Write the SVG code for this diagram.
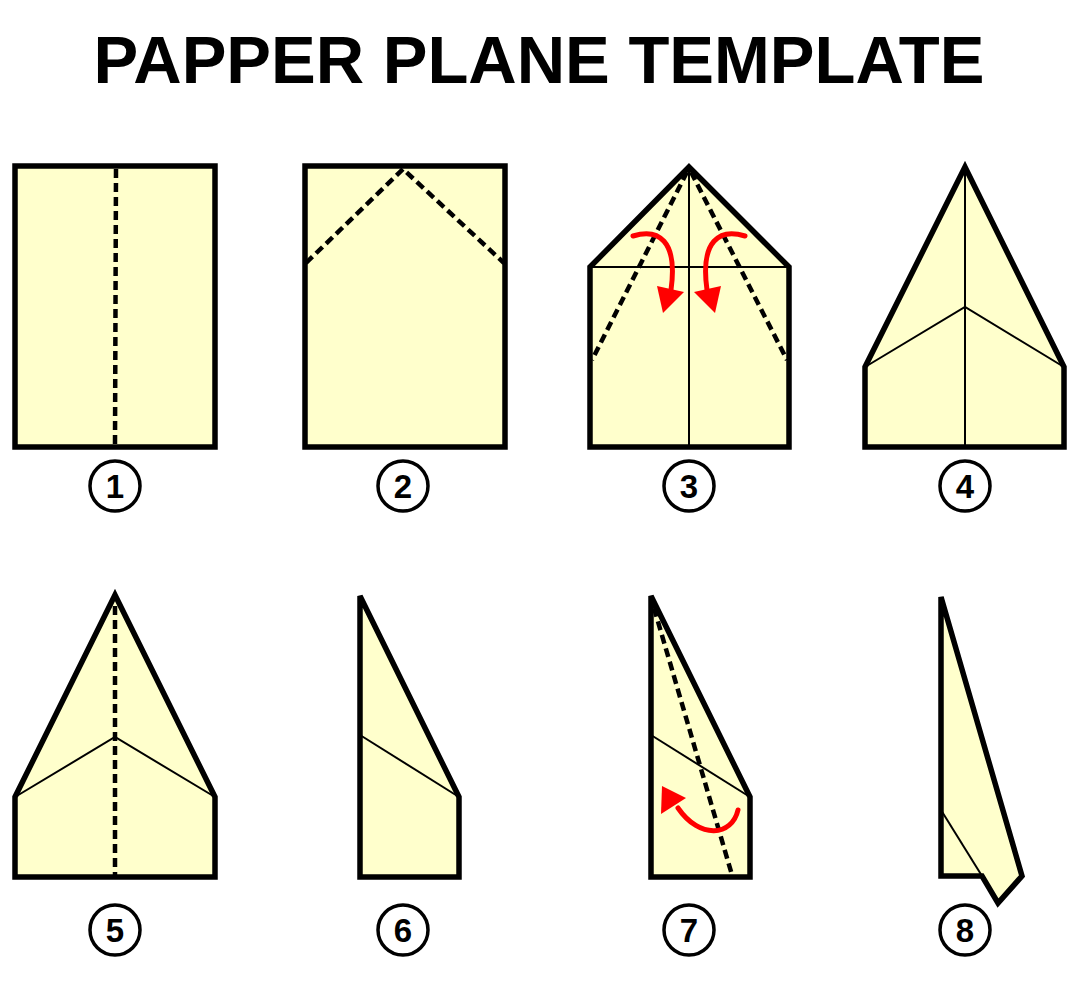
<svg xmlns="http://www.w3.org/2000/svg" width="1080" height="996" viewBox="0 0 1080 996">
<defs>
<style>
.paper{fill:#FFFFCC;stroke:#000;stroke-width:5.5;stroke-linejoin:miter}
.thin{fill:none;stroke:#000;stroke-width:2}
.dash{fill:none;stroke:#000;stroke-width:4.5;stroke-dasharray:9,5}
.arrow{fill:none;stroke:#FF0000;stroke-width:5;stroke-linecap:round}
.head{fill:#FF0000}
.num circle{fill:#fff;stroke:#000;stroke-width:3.5}
.num text{font-family:"Liberation Sans",Arial,sans-serif;font-weight:bold;font-size:33px;text-anchor:middle}
.title{font-family:"Liberation Sans",Arial,sans-serif;font-weight:bold;font-size:67px;text-anchor:middle}
</style>
</defs>
<rect width="1080" height="996" fill="#fff"/>
<text class="title" x="539" y="83">PAPPER PLANE TEMPLATE</text>

<g id="step1">
<rect class="paper" x="15" y="166" width="200" height="281"/>
<line class="dash" x1="116" y1="169" x2="115" y2="445"/>
</g>
<g id="step2">
<rect class="paper" x="305" y="166" width="200" height="281"/>
<polyline class="dash" points="306,263 403,169 504,263"/>
</g>
<g id="step3">
<polygon class="paper" points="689,167 789,267 789,447 590,447 590,267"/>
<line class="thin" x1="590" y1="267" x2="789" y2="267"/>
<line class="thin" x1="689" y1="167" x2="689" y2="447"/>
<line class="dash" x1="687" y1="172" x2="592" y2="360"/>
<line class="dash" x1="691" y1="172" x2="787" y2="360"/>
<path class="arrow" d="M633,236 C658,228 678,240 671,290"/>
<polygon class="head" points="657,286 684,292 663,313"/>
<path class="arrow" d="M745,236 C720,228 700,240 707,290"/>
<polygon class="head" points="721,286 694,292 715,313"/>
</g>
<g id="step4">
<polygon class="paper" points="965,167 1064,367 1064,447 865,447 865,367"/>
<polyline class="thin" points="865,367 965,307 1064,367"/>
<line class="thin" x1="965" y1="167" x2="965" y2="447"/>
</g>
<g id="step5">
<polygon class="paper" points="115,595 215,797 215,877 15,877 15,797"/>
<polyline class="thin" points="15,797 115,737 215,797"/>
<line class="dash" x1="115" y1="606" x2="115" y2="875"/>
</g>
<g id="step6">
<polygon class="paper" points="360,596 459,797 459,877 360,877"/>
<line class="thin" x1="360" y1="735" x2="459" y2="797"/>
</g>
<g id="step7">
<polygon class="paper" points="651,596 750,797 750,877 651,877"/>
<line class="thin" x1="651" y1="735" x2="750" y2="797"/>
<line class="dash" x1="654" y1="608" x2="732" y2="875"/>
<path class="arrow" d="M738,810 C732,836 700,840 678,808"/>
<polygon class="head" points="662,786 661,814 686,798"/>
</g>
<g id="step8">
<polygon class="paper" points="941,597 1022,876 998,903 982,876 941,876"/>
<line class="thin" x1="941" y1="810" x2="982" y2="876"/>
</g>

<g id="labels" class="num">
<g id="n1"><circle cx="115" cy="486" r="25"/><text x="115" y="498">1</text></g>
<g id="n2"><circle cx="403" cy="486" r="25"/><text x="403" y="498">2</text></g>
<g id="n3"><circle cx="689" cy="486" r="25"/><text x="689" y="498">3</text></g>
<g id="n4"><circle cx="965" cy="486" r="25"/><text x="965" y="498">4</text></g>
<g id="n5"><circle cx="115" cy="930" r="25"/><text x="115" y="942">5</text></g>
<g id="n6"><circle cx="403" cy="930" r="25"/><text x="403" y="942">6</text></g>
<g id="n7"><circle cx="689" cy="930" r="25"/><text x="689" y="942">7</text></g>
<g id="n8"><circle cx="965" cy="930" r="25"/><text x="965" y="942">8</text></g>
</g>
<g id="connectors"/>
</svg>
